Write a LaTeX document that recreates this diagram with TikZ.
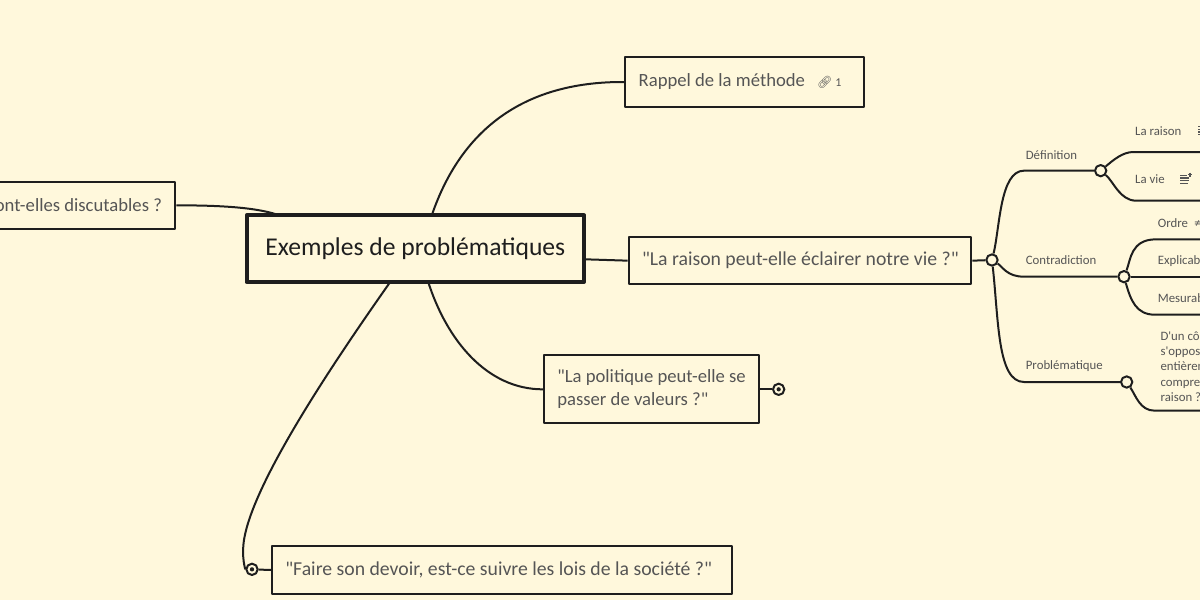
\documentclass[tikz,border=0pt]{standalone}
\usepackage{fontspec}
\setmainfont{Carlito}[Ligatures=TeXOff]
\newfontfamily\emojifont{Noto Emoji}
\definecolor{paper}{HTML}{FFF8DC}
\definecolor{ink}{HTML}{1E1E1E}
\definecolor{grayink}{HTML}{555555}
\usetikzlibrary{positioning}
\begin{document}
\begin{tikzpicture}[x=1pt,y=-1pt,line join=round,thick,
    main node/.style={draw=ink,line width=1.5pt,rectangle,inner ysep=0pt,inner xsep=10pt,text=grayink,font=\fontsize{14.8}{17}\selectfont,align=flush left},
    tight node/.style={main node,font=\fontsize{14}{17}\selectfont},
    root node/.style={draw=ink,line width=3pt,rectangle,inner sep=0pt,text=ink,font=\fontsize{19.2}{22}\selectfont},
    small label/.style={text=grayink,font=\fontsize{9.6}{11}\selectfont,inner sep=0pt,anchor=west,align=left},
    link/.style={draw=ink,line width=1.5pt},
    note bar/.style={draw=grayink,line width=0.8pt},
    open dot/.style={circle,draw=ink,line width=1.5pt,fill=paper,inner sep=0pt,minimum size=8.5pt},
    fold dot/.style={circle,draw=ink,line width=1.5pt,fill=paper,inner sep=0pt,minimum size=8.5pt,path picture={\fill[ink] (path picture bounding box.center) circle (1.6pt);}}]
    \clip (0,0) rectangle (900,450);
    \fill[paper] (0,0) rectangle (900,450);

    % px * 0.75 = pt
    \node[root node,minimum width=253pt,minimum height=50pt] (root) at (311.5,186.5) {\raisebox{-1.5pt}{Exemples de problématiques}};
    \node[tight node,text width=159pt,minimum height=38pt] (rappel) at (558.5,61.5) {\mbox{Rappel de la méthode\hspace{9pt}{\emojifont\fontsize{9}{9}\selectfont\char"1F517}\,{\fontsize{9}{9}\selectfont 1}}};
    \node[main node,text width=237pt,minimum height=35.5pt] (raison) at (600,195.5) {\mbox{"La raison peut-elle éclairer notre vie ?"}};
    \node[tight node,text width=141pt,minimum height=51pt] (politique) at (488.5,292) {\mbox{"La politique peut-elle se}\\\mbox{passer de valeurs ?"}};
    \node[main node,text width=325pt,minimum height=35.5pt] (devoir) at (376.5,427.5) {\mbox{"Faire son devoir, est-ce suivre les lois de la société ?"}};
    \node[tight node,text width=159.5pt,minimum height=35.5pt,align=flush right] (discut) at (41.75,154) {\mbox{ont-elles discutables ?}};

    % points libres
    \coordinate (roota) at (324,161);
    \coordinate (rootb) at (root.east |- 0,194.5);
    \coordinate (rootc) at (321,211);
    \coordinate (rootd) at (208,161);
    \coordinate (roote) at (293,211);
    \coordinate (bordlaraison) at (900,114);
    \coordinate (bordlavie) at (900,150.5);
    \coordinate (bordordre) at (900,179.5);
    \coordinate (bordexpl) at (900,207.5);
    \coordinate (bordmes) at (900,236);
    \coordinate (bordcote) at (900,308);

    \draw[link] (rappel.west) .. controls (390,61) and (345,100) .. (roota);
    \draw[link] (raison.west) -- (rootb);
    \draw[link] (politique.west) .. controls (365,292) and (335,255) .. (rootc);
    \draw[link] (discut.east) .. controls (160,154) and (190,155) .. (rootd);

    \node[fold dot] (devoirdot) at (189,427) {};
    \node[fold dot] (polidot) at (584,292) {};
    \draw[link] (roote) .. controls (255,265) and (190,360) .. (183,405) .. controls (181,418) and (184,427) .. (devoirdot);
    \draw[link] (devoirdot) -- (devoir.west);
    \draw[link] (politique.east) -- (polidot);

    % branche de droite
    \node[open dot] (rdot) at (744,195) {};
    \node[open dot] (defdot) at (825.5,128) {};
    \node[open dot] (condot) at (843,207.5) {};
    \node[open dot] (prodot) at (845,286.5) {};
    \draw[link] (raison.east) -- (rdot);
    \draw[link] (rdot) .. controls (750,170) and (750,128) .. (768,128) -- (defdot);
    \draw[link] (rdot) .. controls (752,200) and (755,207.5) .. (768,207.5) -- (condot);
    \draw[link] (rdot) .. controls (749,240) and (748,286.5) .. (768,286.5) -- (prodot);
    \draw[link] (defdot) .. controls (835,120) and (842,114) .. (850,114) -- (bordlaraison);
    \draw[link] (defdot) .. controls (835,136) and (840,150.5) .. (852,150.5) -- (bordlavie);
    \draw[link] (condot) .. controls (848,195) and (848,179.5) .. (867,179.5) -- (bordordre);
    \draw[link] (condot) -- (bordexpl);
    \draw[link] (condot) .. controls (848,225) and (852,236) .. (866,236) -- (bordmes);
    \draw[link] (prodot) .. controls (852,297) and (855,308) .. (866,308) -- (bordcote);
    \foreach \p/\q/\txt/\nom in {769/116/Définition/def, 769/195/Contradiction/con, 769/274.5/Problématique/pro, 851/98/La raison/lar, 851/134.5/La vie/lav, 868/167/Ordre\enspace≠/ord, 868/195.5/Explicab/exp, 868/223.5/Mesurab/mes}
        \node[small label] (\nom) at (\p,\q) {\txt};
    \node[small label] (cote) at (870,275) {D'un cô\\[0.5pt]s'oppos\\[0.5pt]entièren\\[0.5pt]compre\\[0.5pt]raison ?};

    % icones de note
    \foreach \n/\m in {885/134.5, 898.5/98}{
        \draw[note bar] (\n,\m-3) -- (\n+5,\m-3) (\n,\m-1) -- (\n+7,\m-1) (\n,\m+1) -- (\n+7,\m+1) (\n,\m+3) -- (\n+6,\m+3);
        \draw[note bar] (\n+7.5,\m-5) -- (\n+7.5,\m-2) (\n+6,\m-3.5) -- (\n+9,\m-3.5);
    }
\end{tikzpicture}
\end{document}
